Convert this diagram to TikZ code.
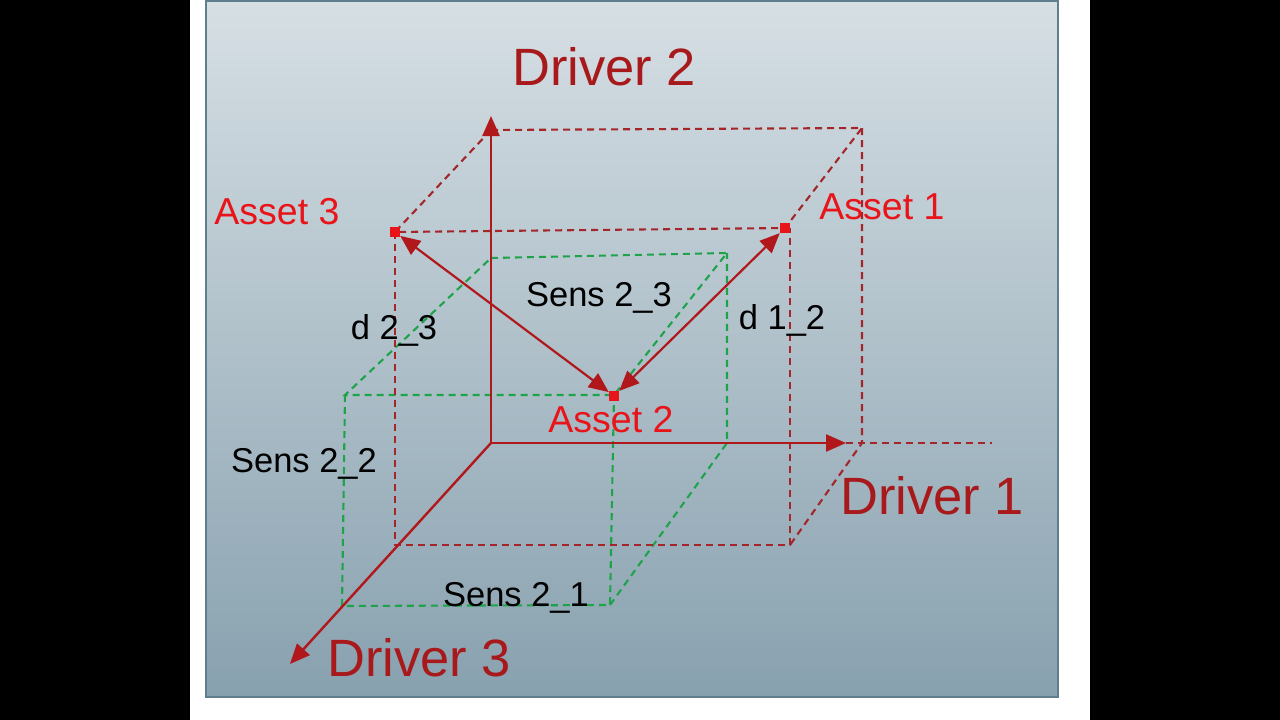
\documentclass[tikz,border=0pt]{standalone}
\usepackage{fontspec}
\setmainfont{Liberation Sans}
\usetikzlibrary{arrows.meta}
\definecolor{axisred}{HTML}{B0181C}
\definecolor{dashred}{HTML}{A3262A}
\definecolor{labred}{HTML}{A8191C}
\definecolor{assetred}{HTML}{E8141A}
\definecolor{sensgreen}{HTML}{1FA34A}
\definecolor{panelborder}{HTML}{5F7F8F}
\definecolor{paneltop}{HTML}{D6DFE4}
\definecolor{panelbottom}{HTML}{88A1AF}
\tikzset{
  axisline/.style={draw=axisred, line width=2.4pt, -{Triangle[length=20pt,width=17pt]}},
  reddash/.style={draw=dashred, line width=2.1pt, dash pattern=on 7pt off 5pt},
  greendash/.style={draw=sensgreen, line width=2.1pt, dash pattern=on 7pt off 5pt},
  distarrow/.style={draw=axisred, line width=2.2pt, {Triangle[length=20pt,width=17pt]}-{Triangle[length=20pt,width=17pt]}},
  assetpt/.style={fill=assetred, draw=none, minimum size=10pt, inner sep=0pt},
  drvlabel/.style={text=labred, font=\fontsize{52.5pt}{58pt}\selectfont, inner sep=0pt},
  assetlabel/.style={text=assetred, font=\fontsize{37.5pt}{42pt}\selectfont, inner sep=0pt},
  senslabel/.style={text=black, font=\fontsize{34.5pt}{39pt}\selectfont, inner sep=0pt}
}
\begin{document}
\begin{tikzpicture}[x=1pt,y=-1pt]
\useasboundingbox (0,0) rectangle (1280,720);
\fill[black] (0,0) rectangle (1280,720);
\fill[white] (190,0) rectangle (1090,720);
\shade[top color=paneltop, bottom color=panelbottom] (206,1) rectangle (1058,697);
\draw[panelborder, line width=2pt] (206,1) rectangle (1058,697);

% axis coordinates
\coordinate (O) at (491,443);
\coordinate (d2tip) at (491,116);
\coordinate (d1tip) at (846,443);
\coordinate (d3tip) at (290,664);

% red cube corners
\coordinate (r1) at (491,130);
\coordinate (r2) at (862,128);
\coordinate (r5) at (395,545);
\coordinate (r6) at (790,545);
\coordinate (r7) at (862,443);
\coordinate (rx) at (992,443);
\coordinate (r3b) at (790,228);

% green box corners
\coordinate (g1) at (491,258);
\coordinate (g2) at (727,253);
\coordinate (g3) at (614,395);
\coordinate (g4) at (345,395);
\coordinate (g5) at (342,606);
\coordinate (g6) at (610,605);
\coordinate (g7) at (727,443);

% green dashed box
\draw[greendash] (g1) -- (g2) -- (g3) -- (g4) -- cycle;
\draw[greendash] (g4) -- (g5) -- (g6) -- (g3);
\draw[greendash] (g6) -- (g7) -- (g2);

% red dashed cube
\draw[reddash] (r1) -- (r2) -- (785,228) -- (395,232) -- cycle;
\draw[reddash] (395,232) -- (r5) -- (r6) -- (r3b);
\draw[reddash] (r2) -- (r7) -- (r6);
\draw[reddash] (d1tip) -- (rx);

% axes
\draw[axisline] (O) -- (d2tip);
\draw[axisline] (O) -- (d1tip);
\draw[axisline] (O) -- (d3tip);

% assets
\node[assetpt] (a3) at (395,232) {};
\node[assetpt] (a1) at (785,228) {};
\node[assetpt] (a2) at (614,396) {};
\draw[distarrow] (a2) -- (a3);
\draw[distarrow] (a2) -- (a1);

% labels
\node[drvlabel] (l2) at (604,67) {Driver 2};
\node[drvlabel] (l1) at (932,496) {Driver 1};
\node[drvlabel] (l3) at (419,658) {Driver 3};
\node[assetlabel] (la3) at (277,212) {Asset 3};
\node[assetlabel] (la1) at (882,207) {Asset 1};
\node[assetlabel] (la2) at (611,420) {Asset 2};
\node[senslabel] (s23) at (599,298) {Sens 2\_3};
\node[senslabel] (d23) at (394,330) {d 2\_3};
\node[senslabel] (d12) at (782,320) {d 1\_2};
\node[senslabel] (s22) at (304,464) {Sens 2\_2};
\node[senslabel] (s21) at (516,598) {Sens 2\_1};
\end{tikzpicture}
\end{document}
